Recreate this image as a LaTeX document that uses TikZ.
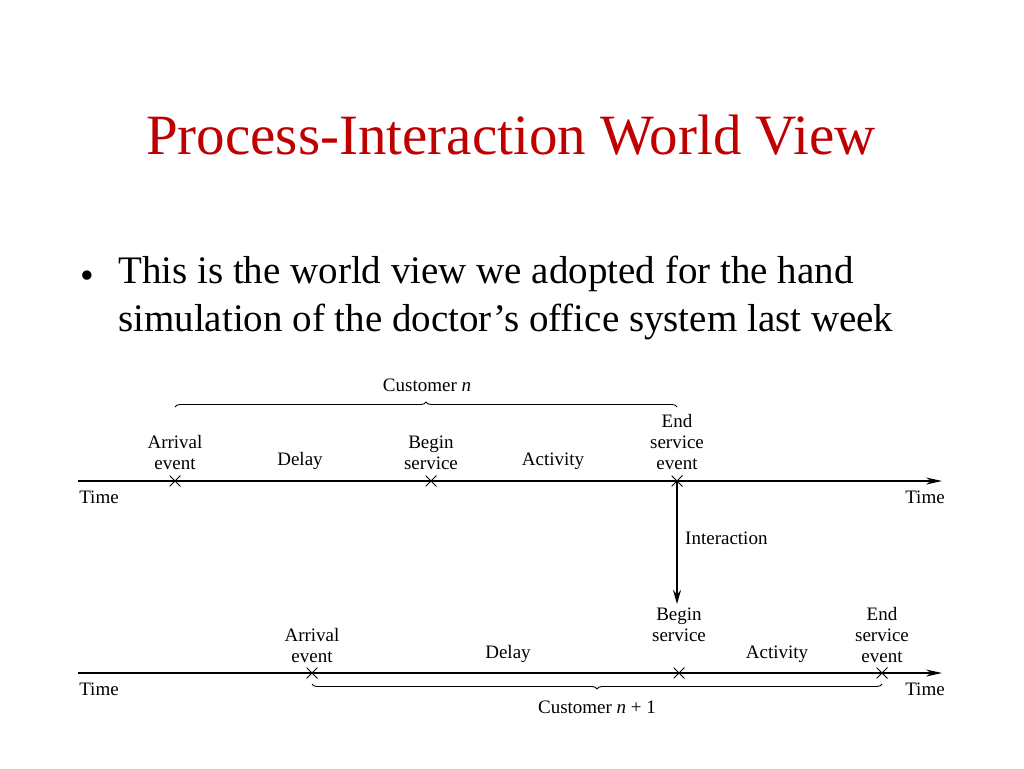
\documentclass[tikz,border=0pt]{standalone}
\usepackage{fontspec}
\setmainfont{Liberation Serif}
\usetikzlibrary{decorations.pathreplacing,arrows.meta}
\begin{document}
\begin{tikzpicture}[x=1pt,y=-1pt,
  lbl/.style={font=\fontsize{19}{21}\selectfont,align=center,inner sep=0pt},
  axis/.style={line width=1.3pt,-{Stealth[length=16pt,width=7pt]}},
  xm/.style={minimum size=11pt,inner sep=0pt,path picture={\draw[line width=1pt] (path picture bounding box.north west)--(path picture bounding box.south east) (path picture bounding box.north east)--(path picture bounding box.south west);}},
  br/.style={decorate,line width=0.9pt,decoration={brace,amplitude=5pt}}]
\useasboundingbox (0,0) rectangle (1024,768);
\node[text=red!75!black,font=\fontsize{57}{60}\selectfont] (title) at (511,135) {Process-Interaction World View};
\node[font=\fontsize{39}{48}\selectfont,inner sep=0pt] (bul) at (87,280) {•};
\node[font=\fontsize{39}{48}\selectfont,anchor=north west,align=left,inner sep=0pt] (body) at (118,256) {This is the world view we adopted for the hand\\simulation of the doctor’s office system last week};
% top axis
\coordinate (t0) at (78,481); \coordinate (t1) at (942,481);
\draw[axis] (t0) -- (t1);
\node[lbl] (tl1) at (99,497) {Time};
\node[lbl] (tr1) at (925,497) {Time};
\node[xm] (a1) at (175,481) {};
\node[xm] (b1) at (431,481) {};
\node[xm] (e1) at (677,481) {};
\node[lbl,anchor=south] at (175,470) {Arrival\\event};
\node[lbl,anchor=south] at (300,470) {Delay};
\node[lbl,anchor=south] at (431,470) {Begin\\service};
\node[lbl,anchor=south] at (553,470) {Activity};
\node[lbl,anchor=south] at (677,470) {End\\service\\event};
\coordinate (bs) at (175,407); \coordinate (be) at (677,407);
\draw[br] (bs) -- (be);
\node[lbl] (c1) at (427,385) {Customer \textit{n}};
% interaction
\coordinate (i1) at (677,604);
\draw[line width=1.8pt,-{Stealth[length=14pt,width=8pt]}] (e1.center) -- (i1);
\node[lbl,anchor=west] (int) at (685,538) {Interaction};
% bottom axis
\coordinate (u0) at (78,673); \coordinate (u1) at (942,673);
\draw[axis] (u0) -- (u1);
\node[lbl] (tl2) at (99,689) {Time};
\node[lbl] (tr2) at (925,689) {Time};
\node[xm] (a2) at (312,673) {};
\node[xm] (b2) at (679,673) {};
\node[xm] (e2) at (882,673) {};
\node[lbl,anchor=south] at (312,663) {Arrival\\event};
\node[lbl,anchor=south] at (508,663) {Delay};
\node[lbl,anchor=south] at (679,642) {Begin\\service};
\node[lbl,anchor=south] at (777,663) {Activity};
\node[lbl,anchor=south] at (882,663) {End\\service\\event};
\coordinate (cs) at (312,684); \coordinate (ce) at (882,684);
\draw[br,decoration={mirror}] (cs) -- (ce);
\node[lbl] (c2) at (597,707) {Customer \textit{n} + 1};
\end{tikzpicture}
\end{document}
